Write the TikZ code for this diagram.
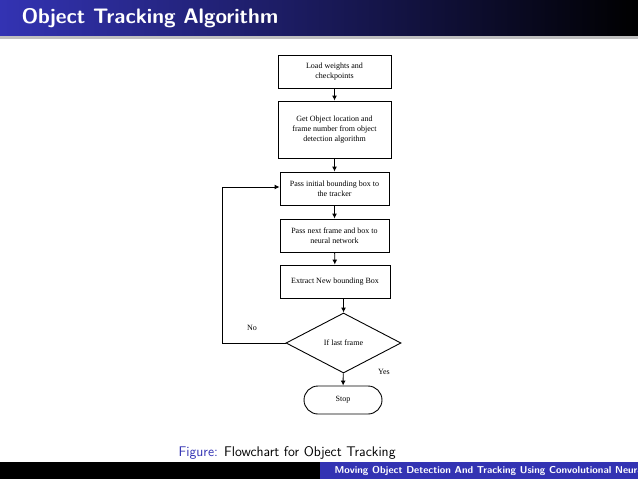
\documentclass[tikz,border=0pt]{standalone}
\usepackage{fontspec}
\newfontfamily\boxfont{Liberation Serif}
\usetikzlibrary{shapes.geometric,shapes.misc,arrows.meta}
\definecolor{bmblue}{RGB}{51,51,179}
\tikzset{
    stepbox/.style={draw, line width=0.9pt, align=center, font=\boxfont\fontsize{8}{10}\selectfont, inner sep=0pt},
    flow/.style={-{Latex[length=5pt,width=5pt]}, line width=0.9pt},
}
\begin{document}
\begin{tikzpicture}[x=1pt, y=-1pt]
    \useasboundingbox (0,0) rectangle (638,479);
    % title bar
    \shade[left color=bmblue, right color=black] (0,0) rectangle (638,36);
    \fill[gray!50] (0,36) rectangle (638,39);
    \node[anchor=west, text=white, font=\sffamily\bfseries\fontsize{21}{24}\selectfont] (title) at (18,18) {Object Tracking Algorithm};

    % flowchart boxes
    \node[stepbox, minimum width=113pt, minimum height=33pt] (load) at (334.5,71.5) {Load weights and\\checkpoints};
    \node[stepbox, minimum width=113pt, minimum height=57pt] (get) at (334.5,129.5) {Get Object location and\\frame number from object\\detection algorithm};
    \node[stepbox, minimum width=109pt, minimum height=33pt] (pass) at (334.5,188.5) {Pass initial bounding box to\\the tracker};
    \node[stepbox, minimum width=109pt, minimum height=33pt] (next) at (334.5,235.5) {Pass next frame and box to\\neural network};
    \node[stepbox, minimum width=110pt, minimum height=33pt] (extract) at (335,281.5) {Extract New bounding Box};
    \node[stepbox, diamond, aspect=1.9, minimum width=115pt, minimum height=60pt] (last) at (343.5,343) {If last frame};
    \node[stepbox, rounded rectangle, minimum width=78pt, minimum height=28pt] (stop) at (343,400) {Stop};
    \coordinate (turn1) at (222,343);
    \coordinate (turn2) at (222,187);

    % edges
    \draw[flow] (load) -- (get);
    \draw[flow] (get) -- (pass);
    \draw[flow] (pass) -- (next);
    \draw[flow] (next) -- (extract);
    \draw[flow] (extract.south -| last.north) -- (last);
    \draw[flow] (last) -- (stop);
    \draw[flow] (last.west) -- (turn1) -- (turn2) -- (turn2 -| pass.west);
    \node[font=\boxfont\fontsize{8}{10}\selectfont] (no) at (252,328) {No};
    \node[font=\boxfont\fontsize{8}{10}\selectfont] (yes) at (384,372) {Yes};

    % caption and footer
    \node[anchor=west, font=\sffamily\fontsize{14}{16}\selectfont] (cap) at (175,453) {\textcolor{bmblue}{Figure:} Flowchart for Object Tracking};
    \fill[black] (0,462) rectangle (320,479);
    \fill[bmblue] (320,462) rectangle (638,479);
    \begin{scope}
        \clip (320,462) rectangle (638,479);
        \node[anchor=west, text=white, font=\sffamily\bfseries\fontsize{10}{12}\selectfont] (foot) at (331,470.5) {Moving Object Detection And Tracking Using Convolutional Neural Networks};
    \end{scope}
\end{tikzpicture}
\end{document}
